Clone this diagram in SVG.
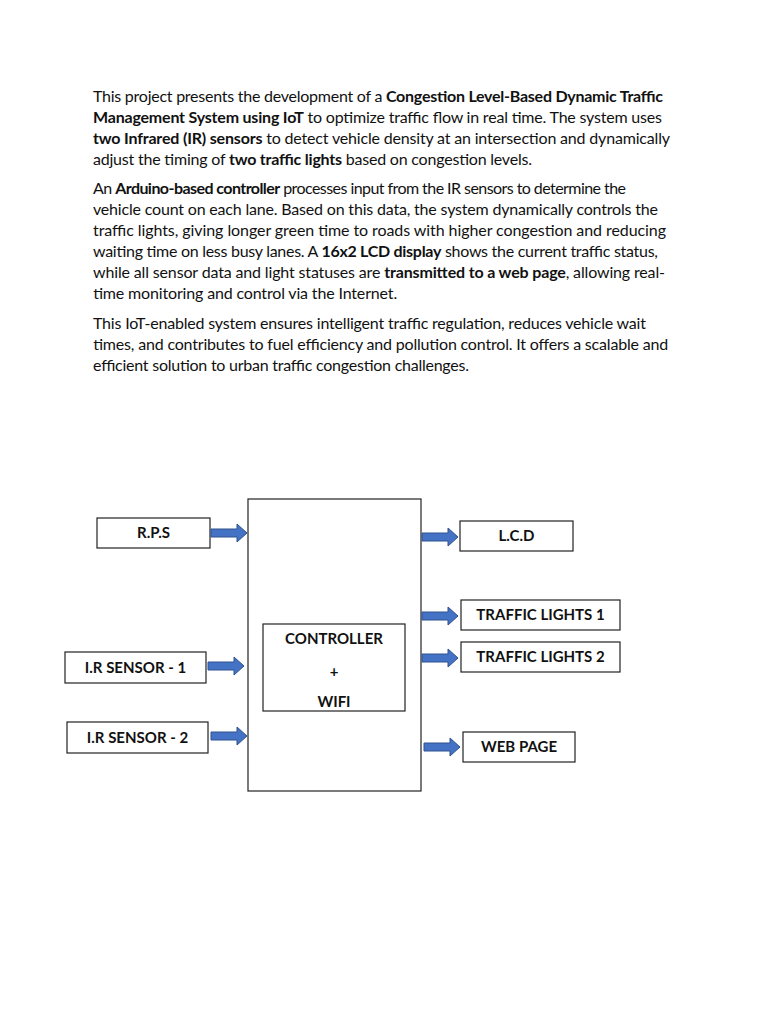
<svg xmlns="http://www.w3.org/2000/svg" xmlns:xlink="http://www.w3.org/1999/xlink" width="768" height="1024" viewBox="0 0 768 1024">
<style>
.body{font-family:Lato,"Carlito","Liberation Sans",sans-serif;font-size:16px;fill:#111}
.b{font-weight:bold}
.box{fill:#fff;stroke:#222;stroke-width:1.2}
.lbl{font-family:Lato,"Carlito","Liberation Sans",sans-serif;font-size:15px;font-weight:bold;fill:#111;text-anchor:middle}
.arr{fill:#4472C4;stroke:#2F528F;stroke-width:1}
</style>
<defs>
<path id="arrow" d="M0,-4 H26 V-9 L36,0 L26,9 V4 H0 Z"/>
</defs>
<rect width="768" height="1024" fill="#fff"/>
<g id="description">
<text class="body" x="93" y="102" textLength="570" lengthAdjust="spacing">This project presents the development of a <tspan class="b">Congestion Level-Based Dynamic Traffic</tspan></text>
<text class="body" x="93" y="123" textLength="569" lengthAdjust="spacing"><tspan class="b">Management System using IoT</tspan> to optimize traffic flow in real time. The system uses</text>
<text class="body" x="93" y="144" textLength="577" lengthAdjust="spacing"><tspan class="b">two Infrared (IR) sensors</tspan> to detect vehicle density at an intersection and dynamically</text>
<text class="body" x="93" y="165" textLength="439" lengthAdjust="spacing">adjust the timing of <tspan class="b">two traffic lights</tspan> based on congestion levels.</text>
<text class="body" x="93" y="194" textLength="533" lengthAdjust="spacing">An <tspan class="b">Arduino-based controller</tspan> processes input from the IR sensors to determine the</text>
<text class="body" x="93" y="215" textLength="565" lengthAdjust="spacing">vehicle count on each lane. Based on this data, the system dynamically controls the</text>
<text class="body" x="93" y="236" textLength="573" lengthAdjust="spacing">traffic lights, giving longer green time to roads with higher congestion and reducing</text>
<text class="body" x="93" y="257" textLength="565" lengthAdjust="spacing">waiting time on less busy lanes. A <tspan class="b">16x2 LCD display</tspan> shows the current traffic status,</text>
<text class="body" x="93" y="278" textLength="572" lengthAdjust="spacing">while all sensor data and light statuses are <tspan class="b">transmitted to a web page</tspan>, allowing real-</text>
<text class="body" x="93" y="299" textLength="304" lengthAdjust="spacing">time monitoring and control via the Internet.</text>
<text class="body" x="93" y="329" textLength="553" lengthAdjust="spacing">This IoT-enabled system ensures intelligent traffic regulation, reduces vehicle wait</text>
<text class="body" x="93" y="350" textLength="575" lengthAdjust="spacing">times, and contributes to fuel efficiency and pollution control. It offers a scalable and</text>
<text class="body" x="93" y="371" textLength="376" lengthAdjust="spacing">efficient solution to urban traffic congestion challenges.</text>
</g>
<g id="main">
<rect class="box" x="248" y="499" width="173" height="292"/>
</g>
<g id="controller">
<rect class="box" x="263" y="624" width="142" height="87"/>
<text class="lbl" x="334" y="644">CONTROLLER</text>
<text class="lbl" x="334" y="677">+</text>
<text class="lbl" x="334" y="707">WIFI</text>
</g>
<g id="rps">
<rect class="box" x="97" y="518" width="113" height="30"/>
<text class="lbl" x="153.5" y="538">R.P.S</text>
</g>
<g id="ir1">
<rect class="box" x="65" y="652" width="141" height="31"/>
<text class="lbl" x="135.5" y="673">I.R SENSOR - 1</text>
</g>
<g id="ir2">
<rect class="box" x="67" y="722" width="141" height="31"/>
<text class="lbl" x="137.5" y="743">I.R SENSOR - 2</text>
</g>
<g id="lcd">
<rect class="box" x="460" y="521" width="113" height="30"/>
<text class="lbl" x="516.5" y="541">L.C.D</text>
</g>
<g id="tl1">
<rect class="box" x="461" y="600" width="159" height="30"/>
<text class="lbl" x="540.5" y="620">TRAFFIC LIGHTS 1</text>
</g>
<g id="tl2">
<rect class="box" x="461" y="642" width="159" height="30"/>
<text class="lbl" x="540.5" y="662">TRAFFIC LIGHTS 2</text>
</g>
<g id="web">
<rect class="box" x="463" y="732" width="112" height="30"/>
<text class="lbl" x="519" y="752">WEB PAGE</text>
</g>
<g id="connectors">
<use class="arr" xlink:href="#arrow" href="#arrow" transform="translate(211,533)"/>
<use class="arr" xlink:href="#arrow" href="#arrow" transform="translate(208,666)"/>
<use class="arr" xlink:href="#arrow" href="#arrow" transform="translate(211,736)"/>
<use class="arr" xlink:href="#arrow" href="#arrow" transform="translate(422,537)"/>
<use class="arr" xlink:href="#arrow" href="#arrow" transform="translate(422,616)"/>
<use class="arr" xlink:href="#arrow" href="#arrow" transform="translate(422,658)"/>
<use class="arr" xlink:href="#arrow" href="#arrow" transform="translate(424,747)"/>
</g>
</svg>
